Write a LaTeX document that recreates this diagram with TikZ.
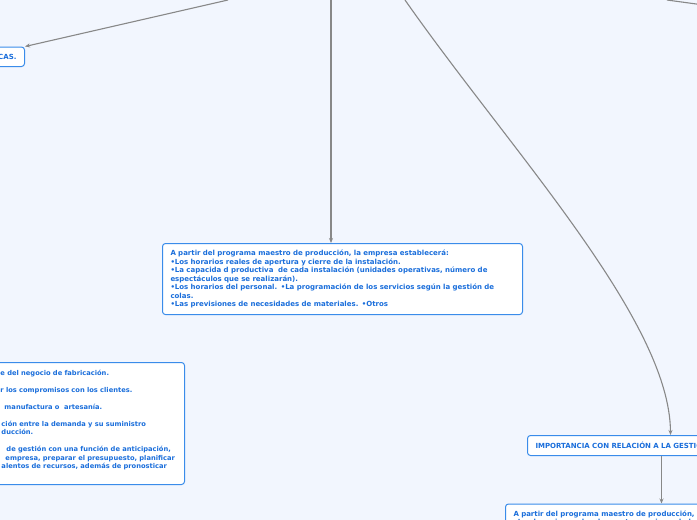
\documentclass[tikz,border=0pt]{standalone}
\usepackage{fontspec}
\setmainfont{DejaVu Sans}
\usetikzlibrary{arrows.meta}
\definecolor{bgblue}{HTML}{F2F6FE}
\definecolor{boxline}{HTML}{3A8CEA}
\definecolor{boxtext}{HTML}{1A6EDB}
\definecolor{linkgray}{HTML}{888888}

\begin{document}
\begin{tikzpicture}[x=1pt, y=-1pt,
  topic/.style={draw=boxline, line width=1pt, fill=white, rounded corners=3pt,
    text=boxtext, font=\fontsize{7}{8.5}\selectfont\bfseries, align=left,
    inner xsep=8pt, inner ysep=6.5pt},
  small/.style={font=\fontsize{6.7}{8.5}\selectfont\bfseries},
  link/.style={draw=linkgray, line width=1.1pt, -{Stealth[length=5pt,width=4pt]}}]
\fill[bgblue] (0,0) rectangle (697,520);
\clip (0,0) rectangle (697,520);

% loose ends at the top edge
\coordinate (c1) at (228,0);
\coordinate (c2) at (331,0);
\coordinate (c3) at (405,0);
\coordinate (c4) at (667,0);
\coordinate (c5) at (700,4.5);

\node[topic, anchor=north east, minimum height=19.5pt] (tecnicas) at (25,46.5) {CAS.};
\node[topic, anchor=north west, text width=344pt, minimum height=71pt] (programa) at (162,243)
  {A partir del programa maestro de producción, la empresa establecerá:\\
   •Los horarios reales de apertura y cierre de la instalación.\\
   •La capacida d productiva\ \ de cada instalación (unidades operativas, número de\\
   espectáculos que se realizarán).\\
   •Los horarios del personal. •La programación de los servicios según la gestión de\\
   colas.\\
   •Las previsiones de necesidades de materiales. •Otros};
\node[topic, small, anchor=north east, text width=230pt, minimum height=122pt] (negocio) at (185,362)
  {\hspace*{54pt}e del negocio de fabricación.\\[8.5pt]
   \hspace*{54pt}r los compromisos con los clientes.\\[8.5pt]
   \hspace*{58pt}manufactura o\ \ artesanía.\\[8.5pt]
   \hspace*{55pt}ción entre la demanda y su suministro\\
   \hspace*{55pt}ducción.\\[8.5pt]
   \hspace*{60pt}de gestión con una función de anticipación,\\
   \hspace*{59pt}empresa, preparar el presupuesto, planificar\\
   \hspace*{55pt}alentos de recursos, además de pronosticar\\
   \mbox{}};
\node[topic, anchor=north west, text width=270pt, minimum height=20pt] (importancia) at (527,435)
  {IMPORTANCIA CON RELACIÓN A LA GESTIÓN};
\node[topic, anchor=north west, text width=296pt] (programa2) at (505,503.5)
  {A partir del programa maestro de producción, la empresa establecerá:\\
   •Los horarios reales de apertura y cierre de la instalación.};

\draw[link] (c1) -- (tecnicas.north east);
\draw[link] (c2) -- (c2 |- programa.north);
\draw[link] (c3) .. controls (510,150) and (670,320) .. (importancia.north);
\draw[linkgray, line width=1.1pt] (c4) -- (c5);
\draw[link] (importancia.south -| programa2.north) -- (programa2.north);
\end{tikzpicture}
\end{document}
